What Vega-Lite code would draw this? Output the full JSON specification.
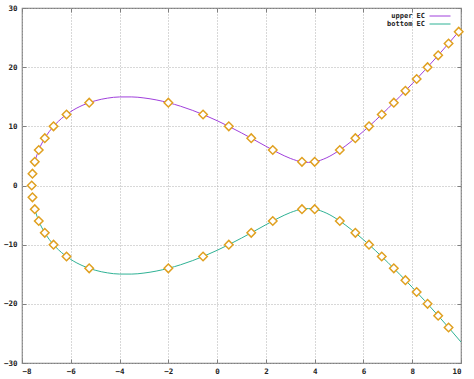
{
  "$schema": "https://vega.github.io/schema/vega-lite/v6.json",
  "width": 439,
  "height": 355,
  "autosize": {"type": "none"},
  "padding": {"left": 22, "top": 8, "right": 13, "bottom": 16},
  "background": "white",
  "config": {
    "view": {"stroke": "#808080", "strokeWidth": 1.2},
    "axis": {
      "labelFont": "DejaVu Sans Mono",
      "labelFontWeight": "bold",
      "labelFontSize": 7.5,
      "labelColor": "#222",
      "domain": false,
      "tickColor": "#808080",
      "tickSize": -4,
      "tickWidth": 1,
      "title": null,
      "gridColor": "#b0b0b0",
      "gridDash": [1, 2],
      "gridWidth": 1
    }
  },
  "datasets": {
    "curve": [
      {"x": -7.4545, "y": 4.341, "series": "upper EC"},
      {"x": -7.3, "y": 6.13, "series": "upper EC"},
      {"x": -7.2, "y": 7.011, "series": "upper EC"},
      {"x": -7.0, "y": 8.426, "series": "upper EC"},
      {"x": -6.75, "y": 9.795, "series": "upper EC"},
      {"x": -6.5, "y": 10.88, "series": "upper EC"},
      {"x": -6.0, "y": 12.49, "series": "upper EC"},
      {"x": -5.5, "y": 13.588, "series": "upper EC"},
      {"x": -5.0, "y": 14.318, "series": "upper EC"},
      {"x": -4.5, "y": 14.761, "series": "upper EC"},
      {"x": -4.0, "y": 14.967, "series": "upper EC"},
      {"x": -3.5, "y": 14.971, "series": "upper EC"},
      {"x": -3.0, "y": 14.799, "series": "upper EC"},
      {"x": -2.5, "y": 14.47, "series": "upper EC"},
      {"x": -2.0, "y": 14.0, "series": "upper EC"},
      {"x": -1.5, "y": 13.402, "series": "upper EC"},
      {"x": -1.0, "y": 12.689, "series": "upper EC"},
      {"x": -0.5, "y": 11.869, "series": "upper EC"},
      {"x": 0.0, "y": 10.954, "series": "upper EC"},
      {"x": 0.5, "y": 9.956, "series": "upper EC"},
      {"x": 1.0, "y": 8.888, "series": "upper EC"},
      {"x": 1.5, "y": 7.77, "series": "upper EC"},
      {"x": 2.0, "y": 6.633, "series": "upper EC"},
      {"x": 2.5, "y": 5.534, "series": "upper EC"},
      {"x": 3.0, "y": 4.583, "series": "upper EC"},
      {"x": 3.5, "y": 3.984, "series": "upper EC"},
      {"x": 3.75, "y": 3.903, "series": "upper EC"},
      {"x": 4.0, "y": 4.0, "series": "upper EC"},
      {"x": 4.5, "y": 4.704, "series": "upper EC"},
      {"x": 5.0, "y": 5.916, "series": "upper EC"},
      {"x": 5.5, "y": 7.441, "series": "upper EC"},
      {"x": 6.0, "y": 9.165, "series": "upper EC"},
      {"x": 6.5, "y": 11.028, "series": "upper EC"},
      {"x": 7.0, "y": 13.0, "series": "upper EC"},
      {"x": 7.5, "y": 15.062, "series": "upper EC"},
      {"x": 8.0, "y": 17.205, "series": "upper EC"},
      {"x": 8.5, "y": 19.42, "series": "upper EC"},
      {"x": 9.0, "y": 21.703, "series": "upper EC"},
      {"x": 9.5, "y": 24.049, "series": "upper EC"},
      {"x": 10.0, "y": 26.458, "series": "upper EC"},
      {"x": -7.4545, "y": -4.341, "series": "bottom EC"},
      {"x": -7.3, "y": -6.13, "series": "bottom EC"},
      {"x": -7.2, "y": -7.011, "series": "bottom EC"},
      {"x": -7.0, "y": -8.426, "series": "bottom EC"},
      {"x": -6.75, "y": -9.795, "series": "bottom EC"},
      {"x": -6.5, "y": -10.88, "series": "bottom EC"},
      {"x": -6.0, "y": -12.49, "series": "bottom EC"},
      {"x": -5.5, "y": -13.588, "series": "bottom EC"},
      {"x": -5.0, "y": -14.318, "series": "bottom EC"},
      {"x": -4.5, "y": -14.761, "series": "bottom EC"},
      {"x": -4.0, "y": -14.967, "series": "bottom EC"},
      {"x": -3.5, "y": -14.971, "series": "bottom EC"},
      {"x": -3.0, "y": -14.799, "series": "bottom EC"},
      {"x": -2.5, "y": -14.47, "series": "bottom EC"},
      {"x": -2.0, "y": -14.0, "series": "bottom EC"},
      {"x": -1.5, "y": -13.402, "series": "bottom EC"},
      {"x": -1.0, "y": -12.689, "series": "bottom EC"},
      {"x": -0.5, "y": -11.869, "series": "bottom EC"},
      {"x": 0.0, "y": -10.954, "series": "bottom EC"},
      {"x": 0.5, "y": -9.956, "series": "bottom EC"},
      {"x": 1.0, "y": -8.888, "series": "bottom EC"},
      {"x": 1.5, "y": -7.77, "series": "bottom EC"},
      {"x": 2.0, "y": -6.633, "series": "bottom EC"},
      {"x": 2.5, "y": -5.534, "series": "bottom EC"},
      {"x": 3.0, "y": -4.583, "series": "bottom EC"},
      {"x": 3.5, "y": -3.984, "series": "bottom EC"},
      {"x": 3.75, "y": -3.903, "series": "bottom EC"},
      {"x": 4.0, "y": -4.0, "series": "bottom EC"},
      {"x": 4.5, "y": -4.704, "series": "bottom EC"},
      {"x": 5.0, "y": -5.916, "series": "bottom EC"},
      {"x": 5.5, "y": -7.441, "series": "bottom EC"},
      {"x": 6.0, "y": -9.165, "series": "bottom EC"},
      {"x": 6.5, "y": -11.028, "series": "bottom EC"},
      {"x": 7.0, "y": -13.0, "series": "bottom EC"},
      {"x": 7.5, "y": -15.062, "series": "bottom EC"},
      {"x": 8.0, "y": -17.205, "series": "bottom EC"},
      {"x": 8.5, "y": -19.42, "series": "bottom EC"},
      {"x": 9.0, "y": -21.703, "series": "bottom EC"},
      {"x": 9.5, "y": -24.049, "series": "bottom EC"},
      {"x": 10.0, "y": -26.458, "series": "bottom EC"}
    ],
    "points": [
      {"x": -7.602, "y": 0},
      {"x": -7.571, "y": 2},
      {"x": -7.477, "y": 4},
      {"x": -7.313, "y": 6},
      {"x": -7.066, "y": 8},
      {"x": -6.707, "y": 10},
      {"x": -6.174, "y": 12},
      {"x": -5.245, "y": 14},
      {"x": -2.0, "y": 14},
      {"x": -0.576, "y": 12},
      {"x": 0.479, "y": 10},
      {"x": 1.399, "y": 8},
      {"x": 2.282, "y": 6},
      {"x": 3.479, "y": 4},
      {"x": 4.0, "y": 4},
      {"x": 5.03, "y": 6},
      {"x": 5.668, "y": 8},
      {"x": 6.228, "y": 10},
      {"x": 6.75, "y": 12},
      {"x": 7.245, "y": 14},
      {"x": 7.721, "y": 16},
      {"x": 8.182, "y": 18},
      {"x": 8.629, "y": 20},
      {"x": 9.064, "y": 22},
      {"x": 9.49, "y": 24},
      {"x": 9.906, "y": 26},
      {"x": -7.571, "y": -2},
      {"x": -7.477, "y": -4},
      {"x": -7.313, "y": -6},
      {"x": -7.066, "y": -8},
      {"x": -6.707, "y": -10},
      {"x": -6.174, "y": -12},
      {"x": -5.245, "y": -14},
      {"x": -2.0, "y": -14},
      {"x": -0.576, "y": -12},
      {"x": 0.479, "y": -10},
      {"x": 1.399, "y": -8},
      {"x": 2.282, "y": -6},
      {"x": 3.479, "y": -4},
      {"x": 4.0, "y": -4},
      {"x": 5.03, "y": -6},
      {"x": 5.668, "y": -8},
      {"x": 6.228, "y": -10},
      {"x": 6.75, "y": -12},
      {"x": 7.245, "y": -14},
      {"x": 7.721, "y": -16},
      {"x": 8.182, "y": -18},
      {"x": 8.629, "y": -20},
      {"x": 9.064, "y": -22},
      {"x": 9.49, "y": -24}
    ]
  },
  "layer": [
    {
      "data": {"name": "curve"},
      "mark": {"type": "line", "interpolate": "monotone", "strokeWidth": 1, "clip": true},
      "encoding": {
        "x": {
          "field": "x", "type": "quantitative",
          "scale": {"domain": [-8, 10], "nice": false, "zero": false},
          "axis": {"values": [-8, -6, -4, -2, 0, 2, 4, 6, 8, 10], "grid": true, "labelPadding": 8, "orient": "bottom"}
        },
        "y": {
          "field": "y", "type": "quantitative",
          "scale": {"domain": [-30, 30], "nice": false, "zero": false},
          "axis": {"values": [-30, -20, -10, 0, 10, 20, 30], "grid": true, "labelPadding": 9, "orient": "left"}
        },
        "color": {
          "field": "series", "type": "nominal",
          "scale": {"domain": ["upper EC", "bottom EC"], "range": ["#a040dc", "#2fb295"]},
          "legend": {
            "title": null,
            "orient": "top-right",
            "offset": 4,
            "padding": 0,
            "symbolType": "M-3,0L3,0M4.1,0L4.1,0",
            "symbolSize": 49,
            "symbolStrokeWidth": 1,
            "symbolFillColor": "transparent",
            "labelAlign": "right",
            "labelOffset": -19,
            "labelFont": "DejaVu Sans Mono",
            "labelFontWeight": "bold",
            "labelFontSize": 7,
            "labelColor": "#222",
            "rowPadding": 1,
            "symbolOffset": 0
          }
        },
        "detail": {"field": "series"},
        "order": {"field": "x", "type": "quantitative"}
      }
    },
    {
      "data": {"name": "points"},
      "mark": {"type": "point", "shape": "diamond", "filled": false, "stroke": "#e0a020", "strokeWidth": 1.5, "size": 72, "fill": "white", "fillOpacity": 1, "opacity": 1},
      "encoding": {
        "x": {
          "field": "x", "type": "quantitative",
          "axis": {"orient": "top", "values": [-8, -6, -4, -2, 0, 2, 4, 6, 8, 10], "labels": false, "grid": false}
        },
        "y": {
          "field": "y", "type": "quantitative",
          "axis": {"orient": "right", "values": [-30, -20, -10, 0, 10, 20, 30], "labels": false, "grid": false}
        }
      }
    }
  ],
  "resolve": {"axis": {"x": "independent", "y": "independent"}}
}
